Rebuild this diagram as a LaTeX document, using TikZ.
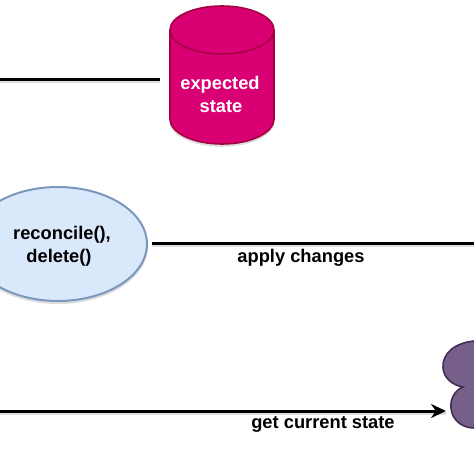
\documentclass[tikz,border=0pt]{standalone}
\usepackage{fontspec}
\setmainfont{Liberation Sans}
\usetikzlibrary{arrows.meta}
\definecolor{pinkfill}{HTML}{D80073}
\definecolor{pinkline}{HTML}{A50040}
\definecolor{bluefill}{HTML}{DAE8FC}
\definecolor{blueline}{HTML}{7A97BC}
\definecolor{purplefill}{HTML}{76608A}
\definecolor{purpleline}{HTML}{432D57}
\definecolor{softshadow}{HTML}{DDDDDD}
\tikzset{
  x=1pt,y=-1pt,
  pinkshape/.style={draw=pinkline,fill=pinkfill,line width=1.6pt},
  blueshape/.style={draw=blueline,fill=bluefill,line width=2pt},
  purpleshape/.style={draw=purpleline,fill=purplefill,line width=1.6pt},
  wire/.style={draw=black,line width=3pt},
  wireshadow/.style={draw=softshadow,line width=3pt},
  whitelabel/.style={text=white,font=\bfseries\fontsize{18.3}{23}\selectfont,align=center,inner sep=0pt},
  darklabel/.style={text=black,font=\bfseries\fontsize{18.3}{23}\selectfont,align=center,inner sep=0pt}
}
\begin{document}
\begin{tikzpicture}
\useasboundingbox (0,0) rectangle (474,474);
\fill[white] (0,0) rectangle (474,474);
\coordinate (expectedIn) at (0,79);
\coordinate (expectedEnd) at (160,79);
\coordinate (applyEnd) at (474,243);
\coordinate (stateIn) at (0,411);
\coordinate (cloudWest) at (446,411);
\coordinate (reconcileEast) at (152,243);
% cylinder
\path[draw=softshadow,fill=softshadow,line width=1.6pt] (170,121) arc[start angle=180,end angle=0,x radius=52,y radius=25] -- cycle;
\path[pinkshape] (170,30) -- (170,119) arc[start angle=180,end angle=0,x radius=52,y radius=25] -- (274,30)
  arc[start angle=0,end angle=-180,x radius=52,y radius=24] -- cycle;
\draw[pinkline,line width=1.4pt] (170,30) arc[start angle=180,end angle=0,x radius=52,y radius=24];
\node[whitelabel] (expected) at (220,94) {expected\\\hspace{2pt}state};
% ellipse
\path[blueshape,draw=softshadow] (58,246) ellipse[x radius=89,y radius=57];
\path[blueshape] (58,244) ellipse[x radius=89,y radius=57];
\node[darklabel] (reconcile) at (62,246) {reconcile(),\\delete()\hspace{6pt}\mbox{}};
% cloud
\path[purpleshape] (474,341) .. controls (455,343) and (442,353) .. (443,368)
  .. controls (444,378) and (452,385) .. (463,387)
  .. controls (455,390) and (450,399) .. (451,408)
  .. controls (452,420) and (462,428) .. (474,428) -- (480,428) -- (480,341) -- cycle;
% connectors
\draw[wireshadow] ([yshift=-2pt]expectedIn) -- ([yshift=-2pt]expectedEnd);
\draw[wire] (expectedIn) -- (expectedEnd);
\draw[wireshadow] ([yshift=-2pt]reconcileEast) -- ([yshift=-2pt]applyEnd);
\draw[wire] (reconcileEast) -- (applyEnd);
\draw[wireshadow] ([yshift=-2pt]stateIn) -- ([yshift=-2pt]cloudWest);
\draw[wire,-{Stealth[length=15pt,width=14pt]}] (stateIn) -- (cloudWest);
\node[darklabel] (apply) at (301,258) {apply changes};
\node[darklabel] (current) at (323,424) {get current state};
\end{tikzpicture}
\end{document}
